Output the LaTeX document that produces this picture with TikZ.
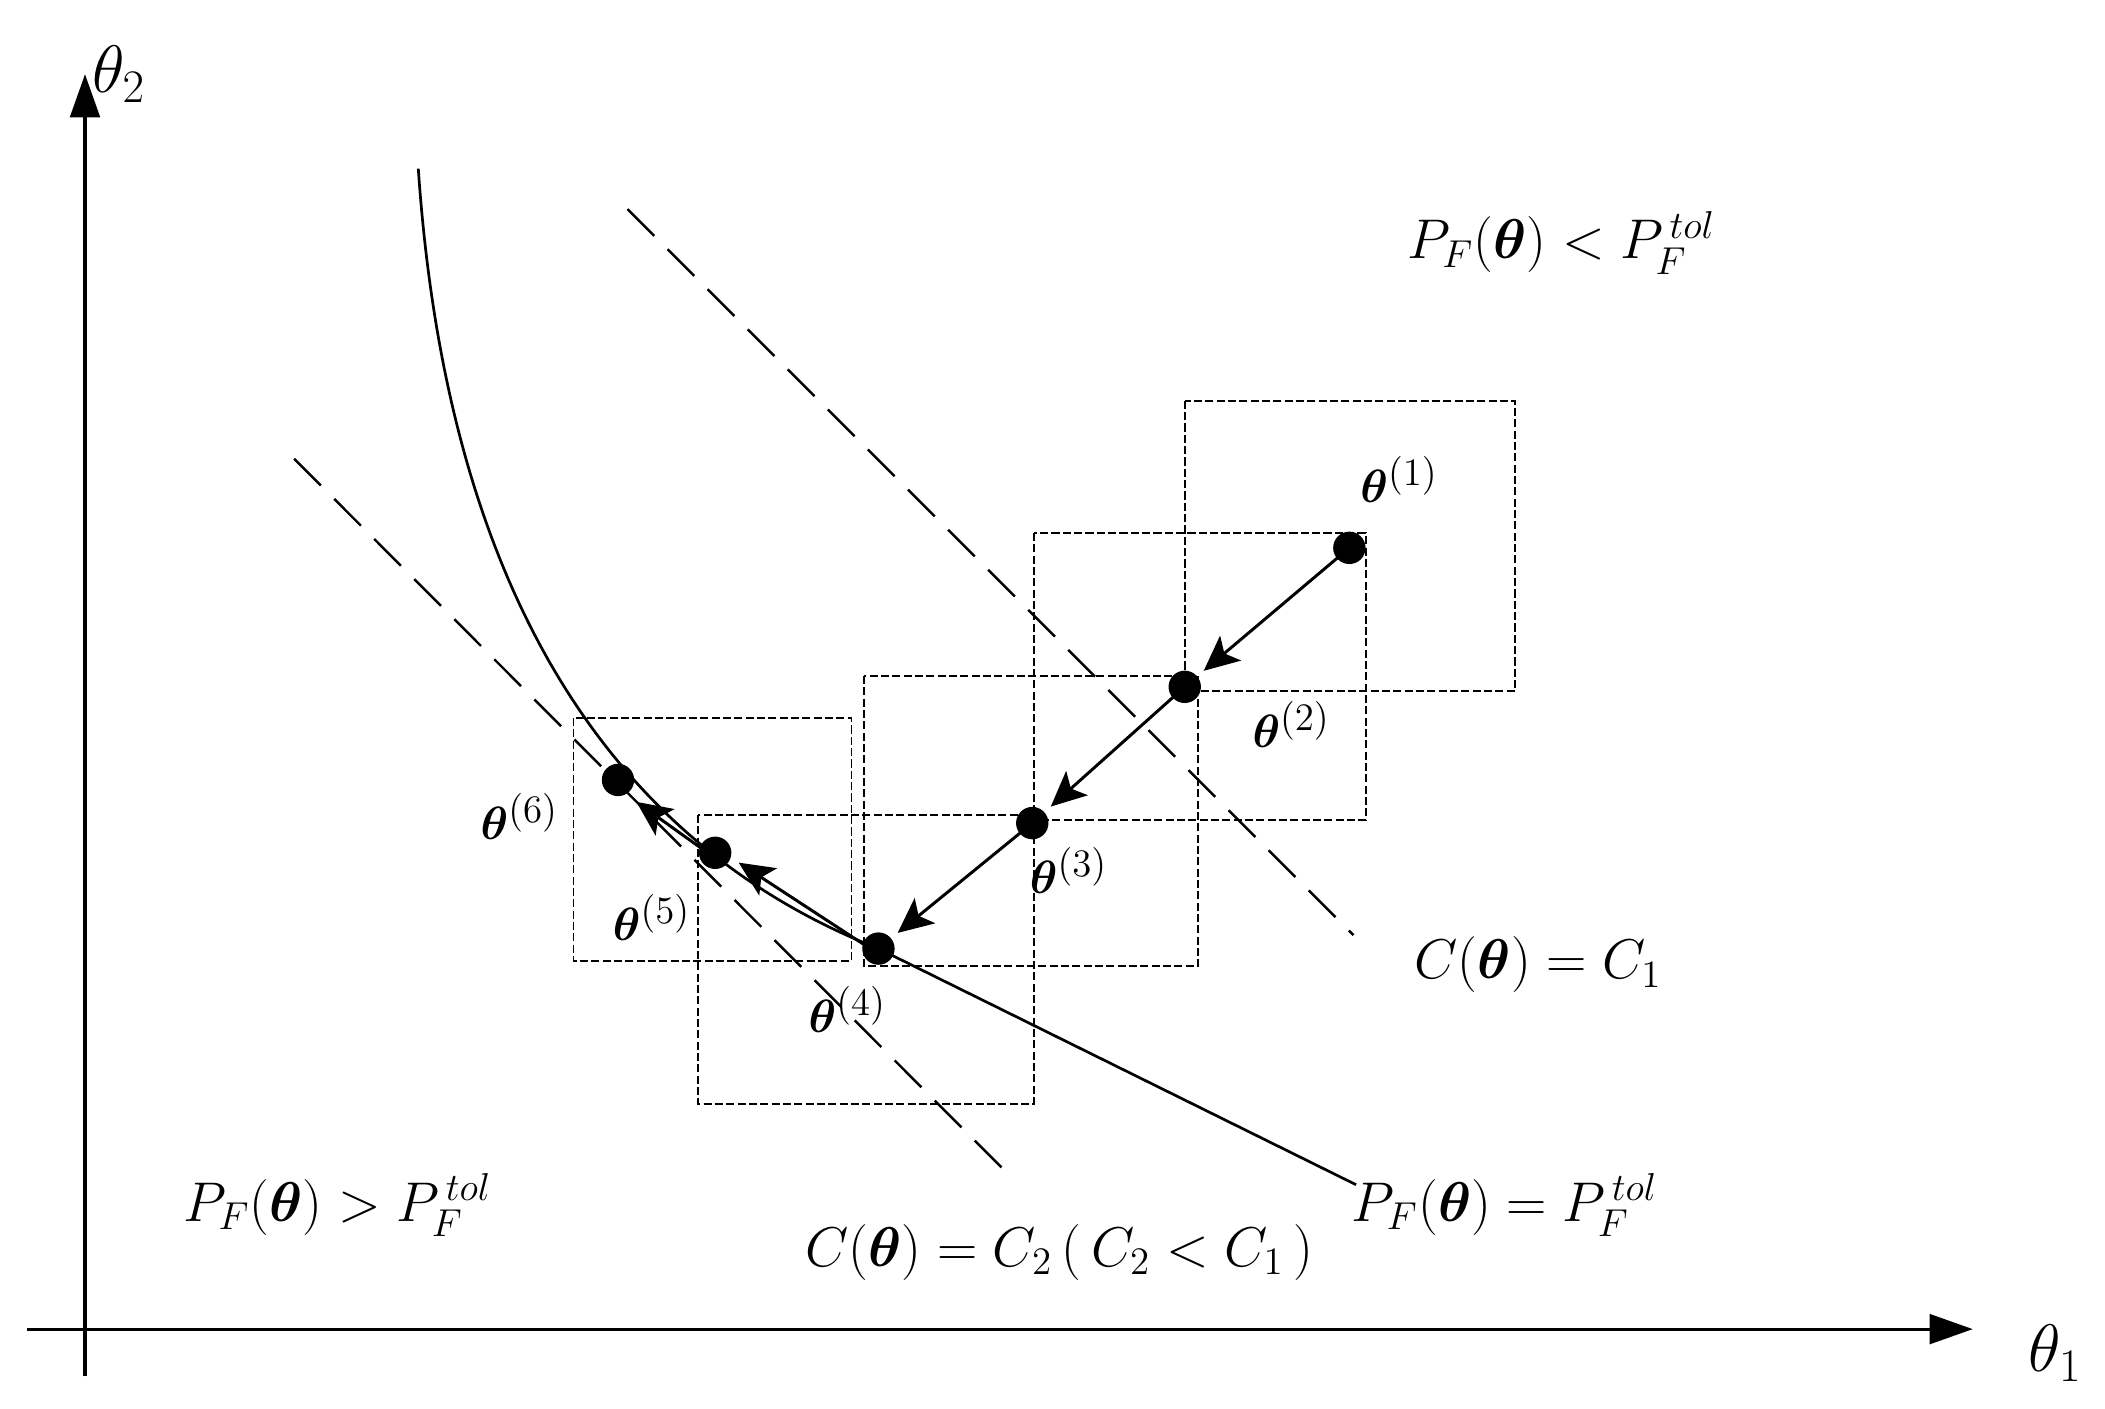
\documentclass[tikz,border=0pt]{standalone}
\usepackage{amsmath,bm}
\usetikzlibrary{arrows.meta}
\begin{document}
\begin{tikzpicture}[x=0.5pt,y=-0.5pt,
  dot/.style={circle,fill=black,inner sep=0pt,minimum size=12pt},
  lbl/.style={font=\fontsize{21}{25}\selectfont,inner sep=0pt},
  tl/.style={font=\fontsize{19}{23}\selectfont,inner sep=0pt},
  boxst/.style={line width=0.7pt,dash pattern=on 3pt off 1.2pt},
  stepar/.style={line width=1.1pt,-{Stealth[length=13pt,width=12pt,inset=3pt]},shorten >=3pt},
  cdash/.style={line width=0.9pt,dash pattern=on 14pt off 7pt},
  axis/.style={line width=1.2pt,-{Triangle[length=16pt,width=11pt]}}]
\useasboundingbox (0,0) rectangle (1560,1044);
% axes
\coordinate (xs) at (20,985); \coordinate (xe) at (1462,985);
\coordinate (ys) at (63,1020); \coordinate (ye) at (63,55);
\draw[axis] (xs) -- (xe);
\draw[axis] (ys) -- (ye);
\node[lbl,font=\fontsize{25}{29}\selectfont] (t1) at (1523,1003) {$\theta_1$};
\node[lbl,font=\fontsize{25}{29}\selectfont] (t2) at (88,55) {$\theta_2$};
% points
\coordinate (p1) at (1000,406);
\coordinate (p2) at (878,509);
\coordinate (p3) at (765,610);
\coordinate (p4) at (651,703);
\coordinate (p5) at (530,632);
\coordinate (p6) at (458,578);
% boxes
\draw[boxst] (878,297) rectangle (1123,512);
\draw[boxst] (766,395) rectangle (1012,608);
\draw[boxst] (640,501) rectangle (888,716);
\draw[boxst] (517,604) rectangle (766,818);
\draw[boxst] (425,532) rectangle (631,712);
% dashed cost lines
\coordinate (c1a) at (465,155); \coordinate (c1b) at (1003,693);
\coordinate (c2a) at (218,340); \coordinate (c2b) at (745,868);
\draw[cdash] (c1a) -- (c1b);
\draw[cdash] (c2a) -- (c2b);
% failure probability curve
\coordinate (ca) at (310,125); \coordinate (ce) at (1005,878);
\draw[line width=1pt] (ca) .. controls (330,420) and (440,620) .. (p4) -- (ce);
% steps
\node[dot] (n1) at (p1) {};
\node[dot] (n2) at (p2) {};
\node[dot] (n3) at (p3) {};
\node[dot] (n4) at (p4) {};
\node[dot] (n5) at (p5) {};
\node[dot] (n6) at (p6) {};
\draw[stepar] (n1.center) -- (n2);
\draw[stepar] (n2.center) -- (n3);
\draw[stepar] (n3.center) -- (n4);
\draw[stepar] ([yshift=-2pt]n4.center) -- ([yshift=-2pt]n5.east);
\draw[stepar] ([yshift=-2pt]n5.center) -- ([yshift=-2pt]n6.south east);
% point labels
\node[tl] (l1) at (1037,355) {$\bm{\theta}^{(1)}$};
\node[tl] (l2) at (957,537) {$\bm{\theta}^{(2)}$};
\node[tl] (l3) at (792,645) {$\bm{\theta}^{(3)}$};
\node[tl] (l4) at (628,748) {$\bm{\theta}^{(4)}$};
\node[tl] (l5) at (483,680) {$\bm{\theta}^{(5)}$};
\node[tl] (l6) at (385,605) {$\bm{\theta}^{(6)}$};
% region labels
\node[lbl] (r1) at (1157,180) {$P_F(\bm{\theta}) < P_F^{\,tol}$};
\node[lbl] (r2) at (1140,715) {$C(\bm{\theta}) = C_1$};
\node[lbl] (r3) at (1115,893) {$P_F(\bm{\theta}) = P_F^{\,tol}$};
\node[lbl] (r4) at (250,893) {$P_F(\bm{\theta}) > P_F^{\,tol}$};
\node[lbl] (r5) at (785,928) {$C(\bm{\theta}) = C_2\,(\,C_2 < C_1\,)$};
\end{tikzpicture}
\end{document}
